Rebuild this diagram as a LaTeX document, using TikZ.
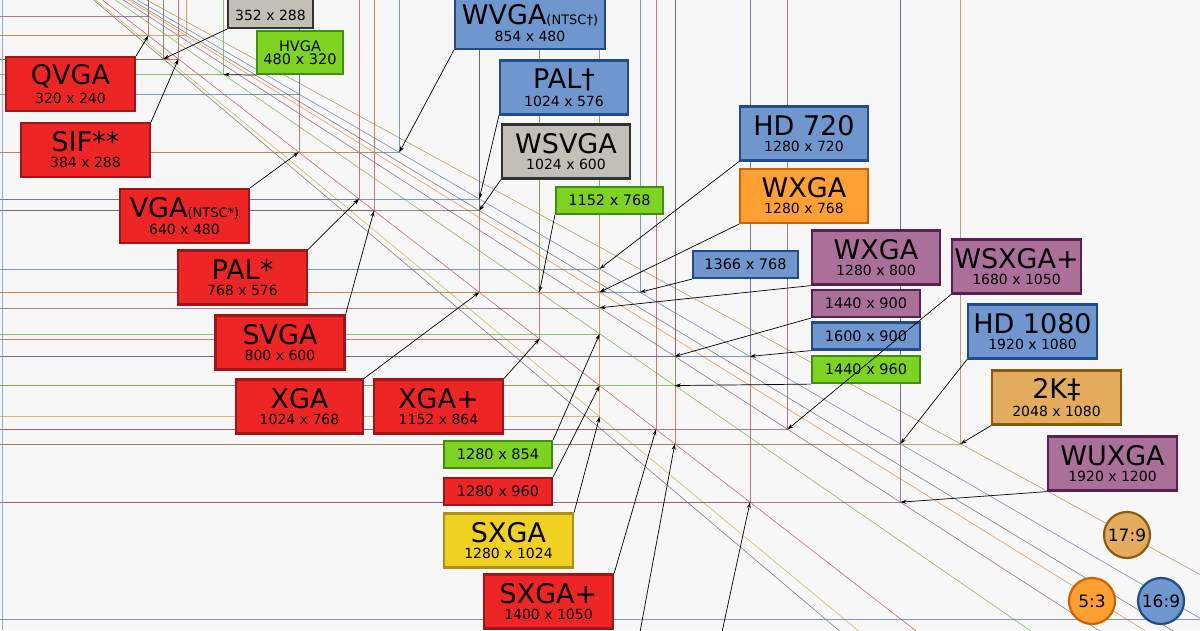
\documentclass[tikz,border=0pt]{standalone}
\usepackage{fontspec}
\setmainfont{DejaVu Sans}
\usetikzlibrary{arrows.meta}
\definecolor{cR}{HTML}{EE2525}\definecolor{cRd}{HTML}{A01515}
\definecolor{cB}{HTML}{6F97CD}\definecolor{cBd}{HTML}{1F4C8A}
\definecolor{cO}{HTML}{FFA033}\definecolor{cOd}{HTML}{D06000}
\definecolor{cT}{HTML}{E2AC5C}\definecolor{cTd}{HTML}{8B5A10}
\definecolor{cP}{HTML}{AA7099}\definecolor{cPd}{HTML}{5A2050}
\definecolor{cY}{HTML}{F0D020}\definecolor{cYd}{HTML}{B09010}
\definecolor{cG}{HTML}{7ED321}\definecolor{cGd}{HTML}{3E8E10}
\definecolor{cN}{HTML}{C2BFB7}\definecolor{cNd}{HTML}{333333}
\newcommand\bt[2]{{\fontsize{27}{27}\selectfont #1}\\[4pt]{\fontsize{14}{14}\selectfont #2}}
\newcommand\st[1]{{\fontsize{14.5}{15}\selectfont #1}}
\tikzset{
 box/.style 2 args={draw=#2, fill=#1, line width=2.2pt, inner sep=0pt, align=center, text=black},
 bR/.style={box={cR}{cRd}}, bB/.style={box={cB}{cBd}}, bO/.style={box={cO}{cOd}},
 bT/.style={box={cT}{cTd}}, bP/.style={box={cP}{cPd}}, bY/.style={box={cY}{cYd}},
 bG/.style={box={cG}{cGd}}, bN/.style={box={cN}{cNd}},
 big/.style={minimum width=129pt, minimum height=54pt},
 sm/.style={minimum width=108pt, minimum height=27pt},
 arr/.style={-{Stealth[length=6pt,width=4pt]}, line width=0.7pt, black},
 circ/.style 2 args={circle, draw=#2, fill=#1, line width=2.2pt, minimum size=46pt, inner sep=0pt, font=\fontsize{17}{17}\selectfont},
 grid/.style={line width=0.6pt, opacity=0.75}
}
\begin{document}
\begin{tikzpicture}[x=1pt,y=1pt]
\useasboundingbox (0,0) rectangle (1200,-630);
\fill[white!97!black] (0,0) rectangle (1200,-630);
\begin{scope}
\clip (0,0) rectangle (1200,-630);
\coordinate (o) at (-2,81);
\foreach \r/\c in {0.75/cRd,0.5625/cBd,0.6/cOd,0.52734/cTd,0.625/cPd,0.8/cYd,0.6667/cGd,0.8182/cNd,0.5859/cNd}{
  \draw[grid,\c!80] (o) -- ({0.47*3000-2},{-(0.486*3000*\r-81)});
}
\foreach \w/\h/\c in {
 320/240/cRd,384/288/cRd,640/480/cRd,768/576/cRd,800/600/cRd,1024/768/cRd,1152/864/cRd,1280/960/cRd,1400/1050/cRd,1440/1080/cRd,1600/1200/cRd,
 854/480/cBd,1024/576/cBd,1280/720/cBd,1366/768/cBd,1600/900/cBd,1920/1080/cBd,640/360/cBd,2560/1440/cBd,
 352/288/cNd,1024/600/cNd,
 480/320/cGd,1152/768/cGd,1280/854/cGd,1440/960/cGd,
 1280/768/cOd,800/480/cOd,400/240/cOd,
 1280/800/cPd,1440/900/cPd,1680/1050/cPd,1920/1200/cPd,320/200/cPd,
 1280/1024/cYd,2048/1080/cTd}{
  \coordinate (p\w x\h) at ({0.47*\w-2},{-(0.486*\h-81)});
  \draw[grid,\c!75] (0,{-(0.486*\h-81)}) -- (p\w x\h) -- ({0.47*\w-2},0);
}
\draw[grid,cBd!60] (2,0) -- (2,-630);
\end{scope}
% boxes
\node[bN,minimum width=85pt,minimum height=54pt,label={[yshift=-14pt,font=\fontsize{14}{14}\selectfont]center:352 x 288}] (cif) at (270.5,-1) {};
\node[bG,minimum width=86pt,minimum height=43pt] (hvga) at (300,-52.5) {\st{HVGA}\\[1pt]\st{480 x 320}};
\node[bR,big] (qvga) at (70.5,-84) {\bt{QVGA}{320 x 240}};
\node[bR,big] (sif) at (85.5,-150) {\bt{SIF**}{384 x 288}};
\node[bR,big] (vga) at (184.5,-216) {{\fontsize{27}{27}\selectfont VGA}{\fontsize{13}{13}\selectfont(NTSC*)}\\[4pt]{\fontsize{14}{14}\selectfont 640 x 480}};
\node[bR,big] (pal) at (242.5,-277.5) {\bt{PAL*}{768 x 576}};
\node[bR,big] (svga) at (280,-342.5) {\bt{SVGA}{800 x 600}};
\node[bR,big,minimum width=127pt] (xga) at (299.5,-406.5) {\bt{XGA}{1024 x 768}};
\node[bR,big] (xgap) at (438.5,-406.5) {\bt{XGA+}{1152 x 864}};
\node[bG,sm] (s1280a) at (498,-454.5) {\st{1280 x 854}};
\node[bR,sm] (s1280b) at (498,-491.5) {\st{1280 x 960}};
\node[bY,big] (sxga) at (508.5,-540.5) {\bt{SXGA}{1280 x 1024}};
\node[bR,big] (sxgap) at (548.5,-601.5) {\bt{SXGA+}{1400 x 1050}};
\node[bB,minimum width=150pt,minimum height=52pt] (wvga) at (530,-23) {{\fontsize{27}{27}\selectfont WVGA}{\fontsize{13}{13}\selectfont(NTSC†)}\\[4pt]{\fontsize{14}{14}\selectfont 854 x 480}};
\node[bB,big,minimum width=128pt] (palw) at (564,-87.5) {\bt{PAL†}{1024 x 576}};
\node[bN,big,minimum width=128pt] (wsvga) at (566,-151.5) {\bt{WSVGA}{1024 x 600}};
\node[bG,sm,minimum width=107pt] (s1152) at (609.5,-200.5) {\st{1152 x 768}};
\node[bB,big,minimum width=128pt] (hd720) at (804,-133.5) {\bt{HD 720}{1280 x 720}};
\node[bO,big,minimum width=128pt] (wxga) at (804,-196) {\bt{WXGA}{1280 x 768}};
\node[bB,sm,minimum width=105pt] (s1366) at (745.5,-264.5) {\st{1366 x 768}};
\node[bP,big,minimum width=128pt] (wxgap) at (876,-257.5) {\bt{WXGA}{1280 x 800}};
\node[bP,sm] (s1440a) at (866,-303.5) {\st{1440 x 900}};
\node[bB,sm] (s1600) at (866,-336) {\st{1600 x 900}};
\node[bG,sm] (s1440b) at (866,-369.5) {\st{1440 x 960}};
\node[bP,big] (wsxga) at (1016.5,-266.5) {\bt{WSXGA+}{1680 x 1050}};
\node[bB,big] (hd1080) at (1032.5,-331.5) {\bt{HD 1080}{1920 x 1080}};
\node[bT,big] (twok) at (1056.5,-397.5) {\bt{2K‡}{2048 x 1080}};
\node[bP,big] (wuxga) at (1112.5,-463.5) {\bt{WUXGA}{1920 x 1200}};
\node[circ={cT}{cTd}] (c179) at (1127,-535) {17:9};
\node[circ={cO}{cOd}] (c53) at (1092,-601) {5:3};
\node[circ={cB}{cBd}] (c169) at (1161,-601) {16:9};
% arrows
\coordinate (e1) at (640,-632);
\coordinate (e2) at (722,-632);
\draw[arr] (cif.south west) -- (p352x288);
\draw[arr] (hvga.south west) -- (p480x320);
\draw[arr] (qvga.north east) -- (p320x240);
\draw[arr] (sif.north east) -- (p384x288);
\draw[arr] (vga.north east) -- (p640x480);
\draw[arr] (pal.north east) -- (p768x576);
\draw[arr] (svga.north east) -- (p800x600);
\draw[arr] (xga.north east) -- (p1024x768);
\draw[arr] (xgap.north east) -- (p1152x864);
\draw[arr] (s1280a.north east) -- (p1280x854);
\draw[arr] (s1280b.north east) -- (p1280x960);
\draw[arr] (sxga.north east) -- (p1280x1024);
\draw[arr] (sxgap.north east) -- (p1400x1050);
\draw[arr] (e1) -- (p1440x1080);
\draw[arr] (e2) -- (p1600x1200);
\draw[arr] (wvga.south west) -- (p854x480);
\draw[arr] (palw.south west) -- (p1024x576);
\draw[arr] (wsvga.south west) -- (p1024x600);
\draw[arr] (s1152.south west) -- (p1152x768);
\draw[arr] (hd720.south west) -- (p1280x720);
\draw[arr] (wxga.south west) -- (p1280x768);
\draw[arr] (s1366.south west) -- (p1366x768);
\draw[arr] (wxgap.south west) -- (p1280x800);
\draw[arr] (s1440a.south west) -- (p1440x900);
\draw[arr] (s1600.south west) -- (p1600x900);
\draw[arr] (s1440b.south west) -- (p1440x960);
\draw[arr] (wsxga.south west) -- (p1680x1050);
\draw[arr] (hd1080.south west) -- (p1920x1080);
\draw[arr] (twok.south west) -- (p2048x1080);
\draw[arr] (wuxga.south west) -- (p1920x1200);
\end{tikzpicture}
\end{document}
